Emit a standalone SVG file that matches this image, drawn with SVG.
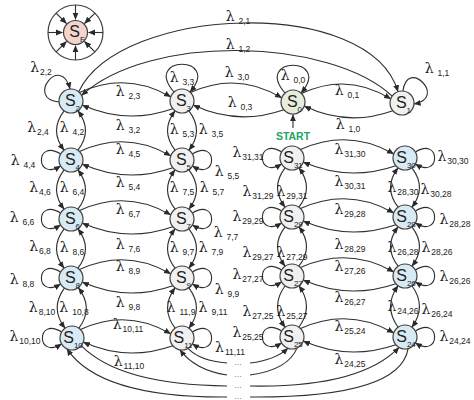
<svg xmlns="http://www.w3.org/2000/svg" width="474" height="400" viewBox="0 0 474 400">
<defs>
<marker id="ah" viewBox="0 0 10 10" refX="9.5" refY="5" markerWidth="7" markerHeight="7" orient="auto" markerUnits="userSpaceOnUse"><path d="M0,0.8 L10,5 L0,9.2 z" fill="#2a2a2a"/></marker>
<style>
.e{fill:none;stroke:#2f2f2f;stroke-width:1.1;marker-end:url(#ah)}
.p{fill:none;stroke:#2f2f2f;stroke-width:1.1}
circle{stroke:#404040;stroke-width:1.2}
.blue{fill:#d8eaf4}.gray{fill:#f0f0f0}.green{fill:#e6eddb}.pink{fill:#f4d5ce}.ring{fill:none}
.nt{font-family:"Liberation Sans",Arial,sans-serif;font-size:16px;fill:#222;text-anchor:middle}
.nt tspan{font-size:8px}
.lb{font-family:"DejaVu Serif","Liberation Serif",serif;font-size:14px;fill:#222;text-anchor:middle}
.lb tspan{font-family:"Liberation Sans",Arial,sans-serif;font-size:8.5px}
.dots{font-family:"Liberation Sans",Arial,sans-serif;font-size:8px;fill:#333;text-anchor:middle}
.start{font-family:"Liberation Sans",Arial,sans-serif;font-size:10.5px;font-weight:bold;fill:#22a463;text-anchor:middle}
</style>
</defs>
<rect width="474" height="400" fill="#ffffff"/>

<g id="connectors">
<path class="e" d="M78.7,91.8 C120,5 370,-5 398,91.7"/>
<path class="e" d="M392.2,96.1 C330,38 150,33 81.6,95.4"/>
<path class="e" d="M79.5,92.5 Q126.5,71 170.7,96.9"/>
<path class="e" d="M172.8,108.7 Q126.5,125 82.3,105.1"/>
<path class="e" d="M190.5,92.5 Q237.5,71 281.7,97.9"/>
<path class="e" d="M283.8,109.7 Q237.5,126 193.3,105.1"/>
<path class="e" d="M301.5,93.5 Q347.5,72 390.7,98.9"/>
<path class="e" d="M392.8,110.7 Q347.5,127 304.3,106.1"/>
<path class="e" d="M79.5,151.5 Q126.5,130 170.7,155.9"/>
<path class="e" d="M172.8,167.7 Q126.5,184 82.3,164.1"/>
<path class="e" d="M79.5,210.5 Q126.5,189 170.7,214.9"/>
<path class="e" d="M172.8,226.7 Q126.5,243 82.3,223.1"/>
<path class="e" d="M79.5,269.5 Q126.5,248 170.7,273.9"/>
<path class="e" d="M172.8,285.7 Q126.5,302 82.3,282.1"/>
<path class="e" d="M80.5,329.5 Q127,308 170.7,333.9"/>
<path class="e" d="M172.8,345.7 Q127,362 83.3,342.1"/>
<path class="e" d="M300.5,149.5 Q348.5,128 393.7,153.9"/>
<path class="e" d="M395.8,165.7 Q348.5,182 303.3,162.1"/>
<path class="e" d="M300.5,208.5 Q348.5,187 393.7,212.9"/>
<path class="e" d="M395.8,224.7 Q348.5,241 303.3,221.1"/>
<path class="e" d="M300.5,267.5 Q348.5,246 393.7,271.9"/>
<path class="e" d="M395.8,283.7 Q348.5,300 303.3,280.1"/>
<path class="e" d="M300.5,328.5 Q348.5,307 393.7,332.9"/>
<path class="e" d="M395.8,344.7 Q348.5,361 303.3,341.1"/>
<path class="e" d="M64.1,110.8 Q49,130.5 64.1,150.2"/>
<path class="e" d="M77.9,150.2 Q93,130.5 77.9,110.8"/>
<path class="e" d="M64.1,169.8 Q49,189.5 64.1,209.2"/>
<path class="e" d="M77.9,209.2 Q93,189.5 77.9,169.8"/>
<path class="e" d="M64.1,228.8 Q49,248.5 64.1,268.2"/>
<path class="e" d="M77.9,268.2 Q93,248.5 77.9,228.8"/>
<path class="e" d="M64.6,287.8 Q49.5,308 65.1,328.2"/>
<path class="e" d="M78.9,328.2 Q94,308 78.4,287.8"/>
<path class="e" d="M175.1,150.2 Q160,130.5 175.1,110.8"/>
<path class="e" d="M188.9,110.8 Q204,130.5 188.9,150.2"/>
<path class="e" d="M175.1,209.2 Q160,189.5 175.1,169.8"/>
<path class="e" d="M188.9,169.8 Q204,189.5 188.9,209.2"/>
<path class="e" d="M175.1,268.2 Q160,248.5 175.1,228.8"/>
<path class="e" d="M188.9,228.8 Q204,248.5 188.9,268.2"/>
<path class="e" d="M175.1,328.2 Q160,308 175.1,287.8"/>
<path class="e" d="M188.9,287.8 Q204,308 188.9,328.2"/>
<path class="e" d="M285.1,167.8 Q270,187.5 285.1,207.2"/>
<path class="e" d="M298.9,207.2 Q314,187.5 298.9,167.8"/>
<path class="e" d="M285.1,226.8 Q270,246.5 285.1,266.2"/>
<path class="e" d="M298.9,266.2 Q314,246.5 298.9,226.8"/>
<path class="e" d="M285.1,285.8 Q270,306.5 285.1,327.2"/>
<path class="e" d="M298.9,327.2 Q314,306.5 298.9,285.8"/>
<path class="e" d="M398.1,207.2 Q383,187.5 398.1,167.8"/>
<path class="e" d="M411.9,167.8 Q427,187.5 411.9,207.2"/>
<path class="e" d="M398.1,266.2 Q383,246.5 398.1,226.8"/>
<path class="e" d="M411.9,226.8 Q427,246.5 411.9,266.2"/>
<path class="e" d="M398.1,327.2 Q383,306.5 398.1,285.8"/>
<path class="e" d="M411.9,285.8 Q427,306.5 411.9,327.2"/>
<path class="e" d="M59,102 C25,99 61,53 70,89"/>
<path class="e" d="M174,92 C142,55 222,55 190,92"/>
<path class="e" d="M285,93 C253,56 333,56 301,93"/>
<path class="e" d="M403,91 C407,57 448,98 414,104"/>
<path class="e" d="M60.6,154 C35,138 35,182 60.6,166"/>
<path class="e" d="M60.6,213 C35,197 35,241 60.6,225"/>
<path class="e" d="M60.6,272 C35,256 35,300 60.6,284"/>
<path class="e" d="M61.6,332 C36,316 36,360 61.6,344"/>
<path class="e" d="M281.6,152 C256,136 256,180 281.6,164"/>
<path class="e" d="M281.6,211 C256,195 256,239 281.6,223"/>
<path class="e" d="M281.6,270 C256,254 256,298 281.6,282"/>
<path class="e" d="M281.6,331 C256,315 256,359 281.6,343"/>
<path class="e" d="M192.4,154 C218,138 218,182 192.4,166"/>
<path class="e" d="M192.4,213 C218,197 218,241 192.4,225"/>
<path class="e" d="M192.4,272 C218,256 218,300 192.4,284"/>
<path class="e" d="M192.4,332 C218,316 218,360 192.4,344"/>
<path class="e" d="M415.4,152 C441,136 441,180 415.4,164"/>
<path class="e" d="M415.4,211 C441,195 441,239 415.4,223"/>
<path class="e" d="M415.4,270 C441,254 441,298 415.4,282"/>
<path class="e" d="M415.4,331 C441,315 441,359 415.4,343"/>
<path class="e" d="M293,128 L293,114.5"/>
<path class="p" d="M188,348.4 Q200,361 227,363"/>
<path class="e" d="M250,363 Q275,360 287.9,348.3"/>
<path class="p" d="M297.1,347.9 Q288,370 250,375"/>
<path class="e" d="M227,375 Q195,370 179.9,349.8"/>
<path class="p" d="M81.2,345.7 Q120,385 227,386"/>
<path class="e" d="M250,386 Q360,388 399,347.4"/>
<path class="p" d="M408.1,348.6 Q400,398 250,397"/>
<path class="e" d="M227,397 Q100,398 66.9,348.9"/>
<path class="e" d="M75.5,5 L75.5,19.5"/>
<path class="e" d="M94.9,13.1 L84.5,23.5"/>
<path class="e" d="M103,32.5 L88.5,32.5"/>
<path class="e" d="M94.9,51.9 L84.5,41.5"/>
<path class="e" d="M75.5,60 L75.5,45.5"/>
<path class="e" d="M56.1,51.9 L66.5,41.5"/>
<path class="e" d="M48,32.5 L62.5,32.5"/>
<path class="e" d="M56.1,13.1 L66.5,23.5"/>
</g>

<g id="edge-labels">
<text class="lb" x="238" y="21">λ<tspan dx="4" dy="3">2,1</tspan></text>
<text class="lb" x="238" y="49">λ<tspan dx="4" dy="3">1,2</tspan></text>
<text class="lb" x="237" y="77">λ<tspan dx="4" dy="3">3,0</tspan></text>
<text class="lb" x="240" y="107">λ<tspan dx="4" dy="3">0,3</tspan></text>
<text class="lb" x="293" y="80">λ<tspan dx="4" dy="3">0,0</tspan></text>
<text class="lb" x="347" y="95">λ<tspan dx="4" dy="3">0,1</tspan></text>
<text class="lb" x="348" y="129">λ<tspan dx="4" dy="3">1,0</tspan></text>
<text class="lb" x="437" y="73">λ<tspan dx="4" dy="3">1,1</tspan></text>
<text class="lb" x="41" y="72">λ<tspan dx="1" dy="3">2,2</tspan></text>
<text class="lb" x="182" y="82">λ<tspan dx="4" dy="3">3,3</tspan></text>
<text class="lb" x="128" y="96">λ<tspan dx="4" dy="3">2,3</tspan></text>
<text class="lb" x="128" y="130">λ<tspan dx="4" dy="3">3,2</tspan></text>
<text class="lb" x="38" y="132">λ<tspan dx="1" dy="3">2,4</tspan></text>
<text class="lb" x="72" y="132">λ<tspan dx="4" dy="3">4,2</tspan></text>
<text class="lb" x="182" y="134">λ<tspan dx="4" dy="3">5,3</tspan></text>
<text class="lb" x="211" y="134">λ<tspan dx="4" dy="3">3,5</tspan></text>
<text class="lb" x="23" y="165">λ<tspan dx="4" dy="3">4,4</tspan></text>
<text class="lb" x="128" y="154">λ<tspan dx="4" dy="3">4,5</tspan></text>
<text class="lb" x="227" y="176">λ<tspan dx="4" dy="3">5,5</tspan></text>
<text class="lb" x="128" y="187">λ<tspan dx="4" dy="3">5,4</tspan></text>
<text class="lb" x="40" y="192">λ<tspan dx="1" dy="3">4,6</tspan></text>
<text class="lb" x="72" y="192">λ<tspan dx="4" dy="3">6,4</tspan></text>
<text class="lb" x="182" y="192">λ<tspan dx="4" dy="3">7,5</tspan></text>
<text class="lb" x="212" y="192">λ<tspan dx="4" dy="3">5,7</tspan></text>
<text class="lb" x="22" y="222">λ<tspan dx="4" dy="3">6,6</tspan></text>
<text class="lb" x="128" y="214">λ<tspan dx="4" dy="3">6,7</tspan></text>
<text class="lb" x="226" y="237">λ<tspan dx="4" dy="3">7,7</tspan></text>
<text class="lb" x="128" y="249">λ<tspan dx="4" dy="3">7,6</tspan></text>
<text class="lb" x="40" y="251">λ<tspan dx="1" dy="3">6,8</tspan></text>
<text class="lb" x="72" y="252">λ<tspan dx="4" dy="3">8,6</tspan></text>
<text class="lb" x="182" y="252">λ<tspan dx="4" dy="3">9,7</tspan></text>
<text class="lb" x="211" y="252">λ<tspan dx="4" dy="3">7,9</tspan></text>
<text class="lb" x="22" y="284">λ<tspan dx="4" dy="3">8,8</tspan></text>
<text class="lb" x="128" y="271">λ<tspan dx="4" dy="3">8,9</tspan></text>
<text class="lb" x="227" y="294">λ<tspan dx="4" dy="3">9,9</tspan></text>
<text class="lb" x="128" y="307">λ<tspan dx="4" dy="3">9,8</tspan></text>
<text class="lb" x="42" y="312">λ<tspan dx="1" dy="3">8,10</tspan></text>
<text class="lb" x="74" y="312">λ<tspan dx="4" dy="3">10,8</tspan></text>
<text class="lb" x="181" y="312">λ<tspan dx="4" dy="3">11,9</tspan></text>
<text class="lb" x="213" y="312">λ<tspan dx="4" dy="3">9,11</tspan></text>
<text class="lb" x="25" y="341">λ<tspan dx="1" dy="3">10,10</tspan></text>
<text class="lb" x="128" y="329">λ<tspan dx="1" dy="3">10,11</tspan></text>
<text class="lb" x="230" y="352">λ<tspan dx="1" dy="3">11,11</tspan></text>
<text class="lb" x="129" y="366">λ<tspan dx="1" dy="3">11,10</tspan></text>
<text class="lb" x="248" y="157">λ<tspan dx="1" dy="3">31,31</tspan></text>
<text class="lb" x="350" y="154">λ<tspan dx="1" dy="3">31,30</tspan></text>
<text class="lb" x="453" y="161">λ<tspan dx="1" dy="3">30,30</tspan></text>
<text class="lb" x="350" y="186">λ<tspan dx="1" dy="3">30,31</tspan></text>
<text class="lb" x="258" y="196">λ<tspan dx="1" dy="3">31,29</tspan></text>
<text class="lb" x="292" y="196">λ<tspan dx="1" dy="3">29,31</tspan></text>
<text class="lb" x="403" y="192">λ<tspan dx="1" dy="3">28,30</tspan></text>
<text class="lb" x="436" y="194">λ<tspan dx="1" dy="3">30,28</tspan></text>
<text class="lb" x="248" y="221">λ<tspan dx="1" dy="3">29,29</tspan></text>
<text class="lb" x="350" y="214">λ<tspan dx="1" dy="3">29,28</tspan></text>
<text class="lb" x="455" y="224">λ<tspan dx="1" dy="3">28,28</tspan></text>
<text class="lb" x="350" y="249">λ<tspan dx="1" dy="3">28,29</tspan></text>
<text class="lb" x="258" y="257">λ<tspan dx="1" dy="3">29,27</tspan></text>
<text class="lb" x="292" y="257">λ<tspan dx="1" dy="3">27,29</tspan></text>
<text class="lb" x="403" y="252">λ<tspan dx="1" dy="3">26,28</tspan></text>
<text class="lb" x="437" y="252">λ<tspan dx="1" dy="3">28,26</tspan></text>
<text class="lb" x="248" y="279">λ<tspan dx="1" dy="3">27,27</tspan></text>
<text class="lb" x="350" y="271">λ<tspan dx="1" dy="3">27,26</tspan></text>
<text class="lb" x="455" y="281">λ<tspan dx="1" dy="3">26,26</tspan></text>
<text class="lb" x="350" y="302">λ<tspan dx="1" dy="3">26,27</tspan></text>
<text class="lb" x="258" y="316">λ<tspan dx="1" dy="3">27,25</tspan></text>
<text class="lb" x="292" y="316">λ<tspan dx="1" dy="3">25,27</tspan></text>
<text class="lb" x="403" y="311">λ<tspan dx="1" dy="3">24,26</tspan></text>
<text class="lb" x="437" y="314">λ<tspan dx="1" dy="3">26,24</tspan></text>
<text class="lb" x="248" y="337">λ<tspan dx="1" dy="3">25,25</tspan></text>
<text class="lb" x="350" y="331">λ<tspan dx="1" dy="3">25,24</tspan></text>
<text class="lb" x="455" y="341">λ<tspan dx="1" dy="3">24,24</tspan></text>
<text class="lb" x="350" y="364">λ<tspan dx="1" dy="3">24,25</tspan></text>
<text class="dots" x="238" y="365">…</text>
<text class="dots" x="238" y="377">…</text>
<text class="dots" x="238" y="388">…</text>
<text class="dots" x="238" y="399">…</text>
<text class="start" x="293" y="140">START</text>
</g>

<g id="SF"><circle class="ring" cx="75.5" cy="32.5" r="27.5"/><circle class="pink" cx="75.5" cy="32.5" r="12"/><text class="nt" x="77" y="37">S<tspan dy="5">F</tspan></text></g>
<g id="S2"><circle class="blue" cx="71" cy="101" r="12"/><text class="nt" x="72.5" y="106">S<tspan dy="5">2</tspan></text></g>
<g id="S3"><circle class="gray" cx="182" cy="101" r="12"/><text class="nt" x="183.5" y="106">S<tspan dy="5">3</tspan></text></g>
<g id="S0"><circle class="green" cx="293" cy="102" r="12"/><text class="nt" x="294.5" y="107">S<tspan dy="5">0</tspan></text></g>
<g id="S1"><circle class="gray" cx="402" cy="103" r="12"/><text class="nt" x="403.5" y="108">S<tspan dy="5">1</tspan></text></g>
<g id="S4"><circle class="blue" cx="71" cy="160" r="12"/><text class="nt" x="72.5" y="165">S<tspan dy="5">4</tspan></text></g>
<g id="S5"><circle class="gray" cx="182" cy="160" r="12"/><text class="nt" x="183.5" y="165">S<tspan dy="5">5</tspan></text></g>
<g id="S6"><circle class="blue" cx="71" cy="219" r="12"/><text class="nt" x="72.5" y="224">S<tspan dy="5">6</tspan></text></g>
<g id="S7"><circle class="gray" cx="182" cy="219" r="12"/><text class="nt" x="183.5" y="224">S<tspan dy="5">7</tspan></text></g>
<g id="S8"><circle class="blue" cx="71" cy="278" r="12"/><text class="nt" x="72.5" y="283">S<tspan dy="5">8</tspan></text></g>
<g id="S9"><circle class="gray" cx="182" cy="278" r="12"/><text class="nt" x="183.5" y="283">S<tspan dy="5">9</tspan></text></g>
<g id="S10"><circle class="blue" cx="72" cy="338" r="12"/><text class="nt" x="73" y="343">S<tspan dy="5">10</tspan></text></g>
<g id="S11"><circle class="gray" cx="182" cy="338" r="12"/><text class="nt" x="183" y="343">S<tspan dy="5">11</tspan></text></g>
<g id="S31"><circle class="gray" cx="292" cy="158" r="12"/><text class="nt" x="293" y="163">S<tspan dy="5">31</tspan></text></g>
<g id="S30"><circle class="blue" cx="405" cy="158" r="12"/><text class="nt" x="406" y="163">S<tspan dy="5">30</tspan></text></g>
<g id="S29"><circle class="gray" cx="292" cy="217" r="12"/><text class="nt" x="293" y="222">S<tspan dy="5">29</tspan></text></g>
<g id="S28"><circle class="blue" cx="405" cy="217" r="12"/><text class="nt" x="406" y="222">S<tspan dy="5">28</tspan></text></g>
<g id="S27"><circle class="gray" cx="292" cy="276" r="12"/><text class="nt" x="293" y="281">S<tspan dy="5">27</tspan></text></g>
<g id="S26"><circle class="blue" cx="405" cy="276" r="12"/><text class="nt" x="406" y="281">S<tspan dy="5">26</tspan></text></g>
<g id="S25"><circle class="gray" cx="292" cy="337" r="12"/><text class="nt" x="293" y="342">S<tspan dy="5">25</tspan></text></g>
<g id="S24"><circle class="blue" cx="405" cy="337" r="12"/><text class="nt" x="406" y="342">S<tspan dy="5">24</tspan></text></g>
</svg>
